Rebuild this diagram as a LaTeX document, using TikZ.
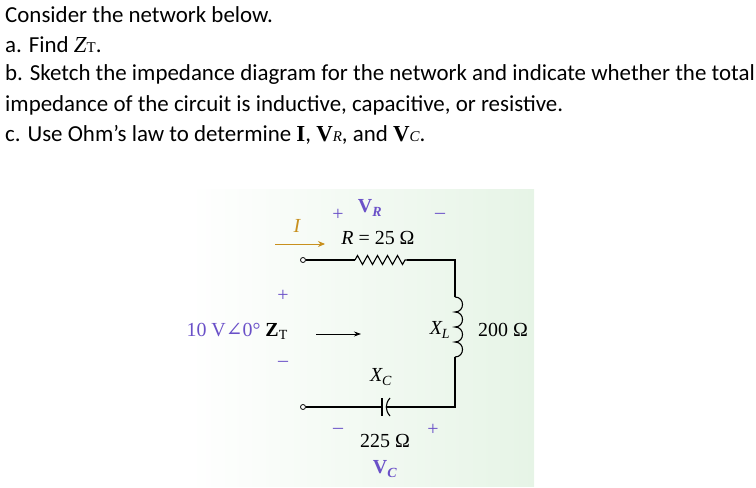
\documentclass[tikz,border=0pt]{standalone}
\usepackage{fontspec}
\setmainfont{Carlito}
\newfontfamily\tms{Liberation Serif}
\newfontfamily\djs{DejaVu Serif}
\usetikzlibrary{arrows.meta,decorations.pathmorphing}
\definecolor{pur}{HTML}{6A50C8}
\definecolor{org}{HTML}{C8901E}
\definecolor{bgg}{HTML}{E6F4E6}
\begin{document}
\begin{tikzpicture}[x=1bp,y=-1bp,
  qtxt/.style={anchor=west,font=\fontsize{23}{25}\selectfont,inner sep=0},
  ctxt/.style={font=\tms\fontsize{20}{22}\selectfont,inner sep=0},
  ptxt/.style={ctxt,text=pur},
  wire/.style={line width=1.1pt},
  term/.style={circle,draw,line width=0.8pt,fill=white,inner sep=0,minimum size=5bp}]
\useasboundingbox (0,0) rectangle (756,488);
\shade[left color=white,right color=bgg] (190,190) rectangle (534,486);
% question text
\node[qtxt] (l1) at (5,15) {Consider the network below.};
\node[qtxt] (l2) at (5,45) {a. Find {\tms\itshape Z}{\tms\fontsize{15}{15}\selectfont T}.};
\node[qtxt] (l3) at (5,75) {b. Sketch the impedance diagram for the network and indicate whether the total};
\node[qtxt] (l4) at (5,105) {impedance of the circuit is inductive, capacitive, or resistive.};
\node[qtxt] (l5) at (5,135) {c. Use Ohm’s law to determine {\tms\bfseries I}, {\tms\bfseries V}{\tms\itshape\fontsize{15}{15}\selectfont R}, and {\tms\bfseries V}{\tms\itshape\fontsize{15}{15}\selectfont C}.};
% circuit nodes
\node[term] (t1) at (303,260) {};
\node[term] (t2) at (303,407) {};
\coordinate (r1) at (355,260);
\coordinate (r2) at (407,260);
\coordinate (c1) at (455,260);
\coordinate (l1a) at (455,297);
\coordinate (l1b) at (455,357);
\coordinate (c2) at (455,407);
\coordinate (k1) at (382,407);
\coordinate (k2) at (387,407);
\draw[wire] (t1) -- (r1);
\draw[wire,decorate,decoration={zigzag,segment length=10bp,amplitude=4.5bp}] (r1) -- (r2);
\draw[wire] (r2) -- (c1) -- (l1a);
\draw[wire] (l1a) .. controls +(10,0) and +(10,0) .. ++(0,15)
  .. controls +(10,0) and +(10,0) .. ++(0,15)
  .. controls +(10,0) and +(10,0) .. ++(0,15)
  .. controls +(10,0) and +(10,0) .. (l1b);
\draw[wire] (l1b) -- (c2) -- (k2);
\draw[wire] (k2) ++(3,-9) .. controls +(-5,6) and +(-5,-6) .. ++(0,18);
\draw[wire] (t2) -- (k1);
\draw[wire] (k1) ++(0,-9) -- ++(0,18);
% labels
\node[ptxt] (vr) at (370,208) {\bfseries V\textsubscript{\itshape R}};
\node[ptxt] (vrp) at (338,215) {+};
\node[ptxt] (vrm) at (440,216) {–};
\node[ctxt] (rl) at (378,238) {\itshape R\upshape{} = 25 Ω};
\node[ctxt,text=org] (il) at (297,226) {\itshape I};
\coordinate (ia) at (275,244);
\coordinate (ib) at (325,244);
\draw[org,line width=0.9pt,-{Stealth[length=7bp,width=6bp]}] (ia) -- (ib);
\node[ptxt] (sp) at (283,296) {+};
\node[ptxt] (sm) at (283,364) {–};
\node[ctxt,anchor=east] (zt) at (288,331) {\color{pur}10 V{\djs ∠}0°\ \color{black}\bfseries Z\mdseries\textsubscript{T}};
\coordinate (za) at (316,334);
\coordinate (zb) at (361,334);
\draw[line width=0.8pt,-{Stealth[length=7bp,width=5bp]}] (za) -- (zb);
\node[ctxt] (xl) at (440,330) {\itshape X\textsubscript{L}};
\node[ctxt] (xlv) at (503,330) {200 Ω};
\node[ctxt] (xc) at (381,377) {\itshape X\textsubscript{C}};
\node[ctxt] (xcv) at (385,441) {225 Ω};
\node[ptxt] (cm) at (338,431) {–};
\node[ptxt] (cp) at (433,430) {+};
\node[ptxt] (vc) at (385,469) {\bfseries V\textsubscript{\itshape C}};
\end{tikzpicture}
\end{document}
